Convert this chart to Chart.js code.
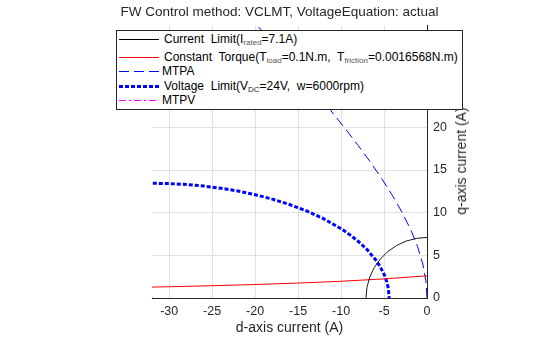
<!DOCTYPE html>
<html lang="en">
<head>
  <meta charset="UTF-8">
  <title>FW Control method: VCLMT</title>
  <script src="https://cdn.jsdelivr.net/npm/chart.js"></script>
  <style>
    body { margin: 0; background: #fff; font-family: "Liberation Sans", Arial, sans-serif; }
    #wrap { position: relative; width: 560px; height: 337px; overflow: hidden; }
    #title { position: absolute; left: 0; width: 559px; top: 4px; text-align: center; font-size: 13.5px; color: #262626; }
    #ylabel { position: absolute; left: 461px; top: 161px; font-size: 14px; color: #262626; white-space: nowrap; transform: translate(-50%, -50%) rotate(-90deg); }
    #legend { position: absolute; left: 116px; top: 30px; width: 347px; height: 80px; box-sizing: border-box; background: #fff; border: 1px solid #262626; }
    .row { position: absolute; left: 0; font-size: 12px; color: #000; white-space: pre; line-height: 14px; height: 14px; }
    .row svg { position: absolute; left: 2px; }
    .row span { position: absolute; left: 47px; top: 0; }
    sub { font-size: 8px; vertical-align: -2px; line-height: 0; color: #555; }
  </style>
</head>
<body>
<div id="wrap">
  <canvas id="chart" width="560" height="337"></canvas>
  <div id="title">FW Control method: VCLMT, VoltageEquation: actual</div>
  <div id="ylabel">q-axis current (A)</div>
  <div id="legend">
    <div class="row" style="top:1px"><svg width="42" height="14"><line x1="0" y1="7.5" x2="40" y2="7.5" stroke="#000" stroke-width="1"/></svg><span>Current  Limit(I<sub>rated</sub>=7.1A)</span></div>
    <div class="row" style="top:19px"><svg width="42" height="14"><line x1="0" y1="7.5" x2="40" y2="7.5" stroke="#f00" stroke-width="1"/></svg><span>Constant  Torque(T<sub>load</sub>=0.1N.m,  T<sub>friction</sub>=0.0016568N.m)</span></div>
    <div class="row" style="top:33px"><svg width="42" height="14"><line x1="0" y1="7.5" x2="40" y2="7.5" stroke="#00f" stroke-width="1" stroke-dasharray="10 5"/></svg><span style="left:45px">MTPA</span></div>
    <div class="row" style="top:48px"><svg width="42" height="14"><line x1="0" y1="7.5" x2="40" y2="7.5" stroke="#00f" stroke-width="3" stroke-dasharray="4 2"/></svg><span>Voltage  Limit(V<sub style="color:#262626">DC</sub>=24V,  w=6000rpm)</span></div>
    <div class="row" style="top:62px"><svg width="42" height="14"><line x1="0" y1="7.5" x2="40" y2="7.5" stroke="#f0f" stroke-width="1" stroke-dasharray="7 3 2 3"/></svg><span style="left:45px">MTPV</span></div>
  </div>
</div>

<script>
// d-axis / q-axis current points (A)
const currentLimitD = [-7.1, -6.99, -6.67, -6.15, -5.44, -4.56, -3.55, -2.43, -1.23, 0];
const currentLimitQ = [0, 1.23, 2.43, 3.55, 4.56, 5.44, 6.15, 6.67, 6.99, 7.1];

const torqueD = [-34, -32, -30, -25, -20, -15, -10, -5, 0];
const torqueQ = [1.24, 1.28, 1.32, 1.44, 1.58, 1.75, 1.96, 2.24, 2.6];

const mtpaD = [0, -0.13, -0.49, -1.09, -1.89, -2.88, -4.01, -5.27, -6.64, -8.10, -9.63, -11.22, -12.87, -14.55, -16.27, -18.03, -19.81];
const mtpaQ = [0, 2, 4, 6, 8, 10, 12, 14, 16, 18, 20, 22, 24, 26, 28, 30, 32];

const voltageD = [-34, -32, -30, -28, -26, -24, -22, -20, -18, -16, -14, -12, -10, -9, -8, -7, -6, -5.5, -5, -4.7, -4.5, -4.4];
const voltageQ = [13.41, 13.45, 13.41, 13.31, 13.13, 12.87, 12.54, 12.11, 11.59, 10.96, 10.20, 9.27, 8.12, 7.43, 6.64, 5.70, 4.51, 3.76, 2.79, 1.98, 1.14, 0];

const mtpvD = [-32.2, -31.9];
const mtpvQ = [0.05, 0];

const xTicks = [-30, -25, -20, -15, -10, -5, 0];
const yTicks = [0, 5, 10, 15, 20, 25, 30];

const pts = (d, q) => d.map((v, i) => ({ x: v, y: q[i] }));
const fontFam = '"Liberation Sans", Arial, sans-serif';
const axisCol = '#262626';
const gridCol = '#e1e1e1';

new Chart(document.getElementById('chart'), {
  type: 'scatter',
  data: {
    datasets: [
      { label: 'Current Limit', data: pts(currentLimitD, currentLimitQ), borderColor: '#000', borderWidth: 0.9 },
      { label: 'Constant Torque', data: pts(torqueD, torqueQ), borderColor: '#f00', borderWidth: 1 },
      { label: 'MTPA', data: pts(mtpaD, mtpaQ), borderColor: '#00f', borderWidth: 1, borderDash: [10, 5] },
      { label: 'Voltage Limit', data: pts(voltageD, voltageQ), borderColor: '#00f', borderWidth: 3, borderDash: [4, 2] },
      { label: 'MTPV', data: pts(mtpvD, mtpvQ), borderColor: '#f0f', borderWidth: 1, borderDash: [7, 3, 2, 3] }
    ].map(ds => Object.assign({ showLine: true, pointRadius: 0, fill: false, tension: 0 }, ds))
  },
  options: {
    responsive: false,
    animation: false,
    events: [],
    layout: { padding: { left: 152, top: 25, right: 0, bottom: 0 } },
    plugins: { legend: { display: false }, title: { display: false }, tooltip: { enabled: false } },
    scales: {
      x: {
        type: 'linear', position: 'bottom', min: -32, max: 0,
        afterBuildTicks: s => { s.ticks = xTicks.map(v => ({ value: v })); },
        afterFit: s => { s.height = 39; },
        grid: { color: gridCol, drawTicks: false },
        border: { color: axisCol, width: 1 },
        ticks: { padding: 6, color: axisCol, autoSkip: false, maxRotation: 0, font: { family: fontFam, size: 12.5 } },
        title: { display: true, text: 'd-axis current (A)', color: axisCol, padding: 0, font: { family: fontFam, size: 14 } }
      },
      y: {
        type: 'linear', position: 'right', min: 0, max: 32,
        afterBuildTicks: s => { s.ticks = yTicks.map(v => ({ value: v })); },
        afterFit: s => { s.width = 133; },
        grid: { color: gridCol, drawTicks: false },
        border: { color: axisCol, width: 1 },
        ticks: { padding: 6, color: axisCol, autoSkip: false, font: { family: fontFam, size: 12.5 } }
      }
    }
  }
});
</script>
</body>
</html>
